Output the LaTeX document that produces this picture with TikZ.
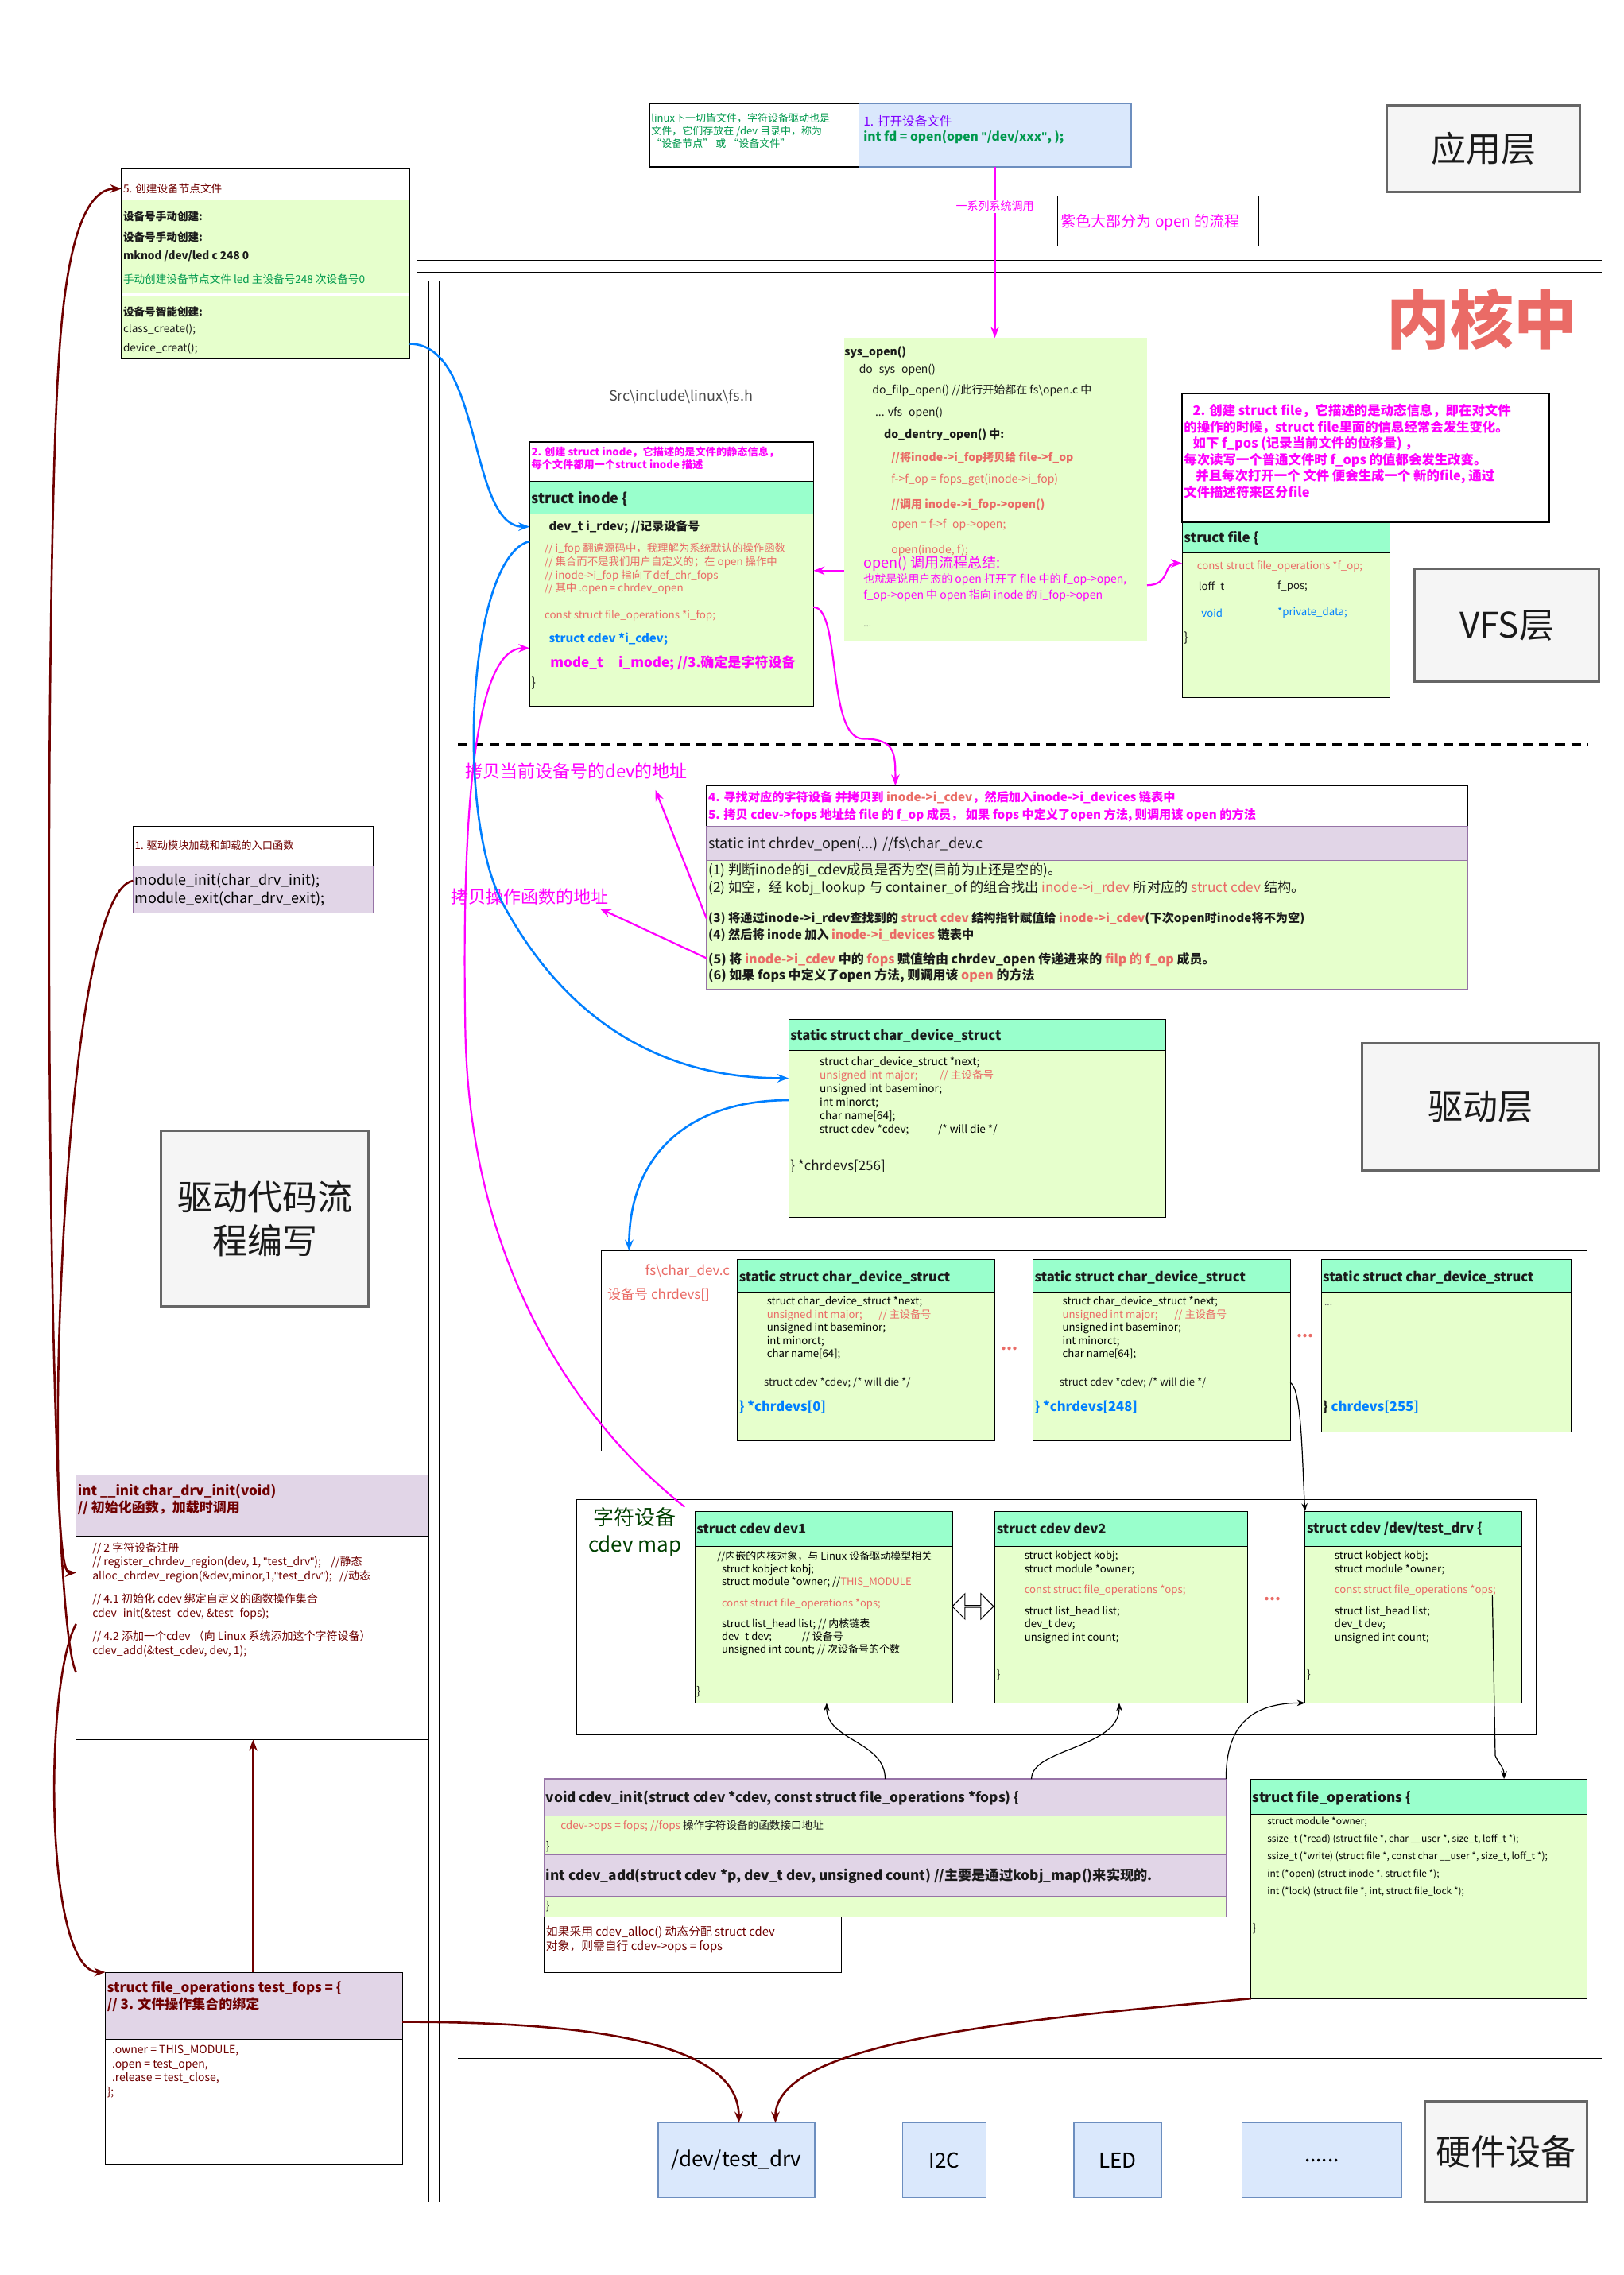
\documentclass[tikz,border=0pt]{standalone}
\usepackage{fontspec}
\setmainfont{Noto Sans CJK SC}
\newfontfamily\lib{Liberation Sans}
\usetikzlibrary{fit,arrows.meta,shapes.arrows}
\definecolor{hdr}{HTML}{99FFCC}
\definecolor{grn}{HTML}{E6FFCC}
\definecolor{pur}{HTML}{E1D5E7}
\definecolor{purd}{HTML}{9673A6}
\definecolor{blu}{HTML}{DAE8FC}
\definecolor{blud}{HTML}{6C8EBF}
\definecolor{gry}{HTML}{F5F5F5}
\definecolor{gryd}{HTML}{666666}
\definecolor{rtx}{HTML}{EA6B66}
\definecolor{mag}{HTML}{FF00FF}
\definecolor{drd}{HTML}{6F0000}
\definecolor{bln}{HTML}{007FFF}
\definecolor{gtx}{HTML}{00994D}
\definecolor{ptx}{HTML}{7F00FF}
\definecolor{dtx}{HTML}{1A1A1A}
\newcounter{tlc}
\newcommand\q{{\lib"}}
\newcommand\fz[1]{\fontsize{#1}{1.25\dimexpr #1pt\relax}\selectfont}
\newcommand\tl[3][]{\stepcounter{tlc}\node[tx,#1] (t\arabic{tlc}) at (#2) {#3};}
\newcommand\bx[4][]{\node[fit={(#3)(#4)},inner sep=0pt,outer sep=0pt,draw,#1] (#2) {};}
\tikzset{
  tx/.style={inner sep=0pt,anchor=west,font=\fz{6.5},text=dtx},
  bk/.style={draw=black,line width=0.7pt},
  gb/.style={draw=black,line width=0.5pt,fill=grn},
  hb/.style={draw=black,line width=0.5pt,fill=hdr},
  pb/.style={draw=purd,line width=0.6pt,fill=pur},
  grybox/.style={draw=gryd,line width=1.5pt,fill=gry},
  blubox/.style={draw=blud,line width=0.8pt,fill=blu},
  drarrow/.style={draw=drd,line width=1.3pt,-{Stealth[length=7pt]}},
  blarrow/.style={draw=bln,line width=1.3pt,-{Stealth[length=7pt]}},
  mgarrow/.style={draw=mag,line width=1.1pt,-{Stealth[length=7pt]}},
  kaarrow/.style={draw=black,line width=0.6pt,-{Stealth[length=5pt]}},
}
\begin{document}
\begin{tikzpicture}[x=0.92pt,y=-0.92pt]
\useasboundingbox[fill=white] (0,0) rectangle (1110,1555);
% ---------- frame lines
\draw[line width=0.6pt] (285,178) -- (1095,178) (285,186) -- (1095,186);
\draw[line width=0.5pt] (293,192) -- (293,1505) (300,192) -- (300,1505);
\draw[line width=0.6pt] (313,1400) -- (1095,1400) (313,1407) -- (1095,1407);
\draw[line width=1.5pt,dash pattern=on 6pt off 4pt] (313,509) -- (1085,509);
% ---------- top
\bx[bk,fill=white]{linuxbox}{444,71}{587,114}
\tl[text=gtx,font=\fz{6.5},align=left,anchor=north west]{445,77}{linux下一切皆文件，字符设备驱动也是\\文件，它们存放在 /dev 目录中，称为\\“设备节点” 或 “设备文件”}
\bx[blubox]{openbox}{587,71}{773,114}
\tl[text=ptx,font=\fz{7.8}]{590,83}{ 1. 打开设备文件}
\tl[text=gtx,font=\bfseries\fz{7.8}]{590,94}{int fd = open(open \q/dev/xxx\q, );}
\bx[grybox]{appl}{948,72}{1080,131}
\node[font=\fz{22},text=dtx] (applt) at (appl.center) {应用层};
\bx[bk,fill=white]{purpnote}{723,134}{860,168}
\tl[text=mag,font=\fz{9.5}]{725,152}{紫色大部分为 open 的流程}
\node[font=\bfseries\fz{40},text=rtx] (kern) at (1013,218) {内核中};
\tl[font=\fz{9},text=dtx!80]{416,271}{Src\textbackslash include\textbackslash linux\textbackslash fs.h}
% ---------- left box 5
\bx[bk,fill=white]{nodebox}{83,115}{280,245}
\bx[draw=none,fill=grn]{nb1}{83,137}{280,200}
\bx[draw=none,fill=grn]{nb2}{83,202}{280,245}
\tl[text=drd,font=\fz{6.8}]{84,129}{5. 创建设备节点文件}
\tl[font=\bfseries\fz{6.8}]{84,148}{设备号手动创建:}
\tl[font=\bfseries\fz{6.8}]{84,162}{设备号手动创建:}
\tl[font=\bfseries\fz{6.8}]{84,175}{mknod /dev/led c 248 0}
\tl[text=gtx,font=\fz{6.8}]{84,191}{手动创建设备节点文件 led  主设备号248 次设备号0}
\tl[font=\bfseries\fz{6.8}]{84,213}{设备号智能创建:}
\tl[font=\fz{6.8}]{84,225}{class\_create();}
\tl[font=\fz{6.8}]{84,238}{device\_creat();}
% ---------- sys_open
\bx[draw=none,fill=grn]{sysopen}{577,231}{784,438}
\tl[font=\bfseries\fz{7}]{577,241}{sys\_open()}
\tl[font=\fz{7}]{587,253}{do\_sys\_open()}
\tl[font=\fz{7}]{596,267}{do\_filp\_open()  //此行开始都在  fs\textbackslash open.c 中}
\tl[font=\fz{7}]{598,282}{... vfs\_open()}
\tl[font=\bfseries\fz{7}]{604,297}{do\_dentry\_open() 中:}
\tl[font=\bfseries\fz{7},text=rtx]{609,313}{//将inode->i\_fop拷贝给 file->f\_op}
\tl[font=\fz{7},text=rtx]{609,328}{f->f\_op = fops\_get(inode->i\_fop)}
\tl[font=\bfseries\fz{7},text=rtx]{609,345}{//调用 inode->i\_fop->open()}
\tl[font=\fz{7},text=rtx]{609,359}{open = f->f\_op->open;}
\tl[font=\fz{7},text=rtx]{609,376}{open(inode, f);}
\tl[font=\fz{9},text=mag]{590,385}{open() 调用流程总结:}
\tl[font=\fz{7},text=mag]{590,396}{也就是说用户态的 open 打开了 file 中的 f\_op->open,}
\tl[font=\fz{7},text=mag]{590,407}{f\_op->open 中 open 指向 inode 的 i\_fop->open}
\tl[font=\fz{6},text=gryd]{590,428}{...}
% ---------- struct file
\bx[bk,fill=white]{filenote}{808,269}{1059,357}
\node[font=\bfseries\fz{8.2},text=mag,align=left,anchor=north west,inner sep=0pt] (filenotet) at (809,276) {\ \ \ 2. 创建 struct file，它描述的是动态信息，即在对文件\\的操作的时候，struct file里面的信息经常会发生变化。\\\ \ \ 如下 f\_pos (记录当前文件的位移量) ，\\每次读写一个普通文件时 f\_ops 的值都会发生改变。\\\ \ \ \ 并且每次打开一个 文件 便会生成一个 新的file, 通过\\文件描述符来区分file};
\bx[gb]{filebody}{808,378}{950,477}
\bx[hb]{filehdr}{808,357}{950,378}
\tl[font=\bfseries\fz{8.5}]{809,368}{struct file \{}
\tl[font=\fz{6.6},text=rtx]{818,387}{const struct file\_operations *f\_op;}
\tl[font=\fz{6.6}]{819,401}{loff\_t}
\tl[font=\fz{6.6}]{873,401}{f\_pos;}
\tl[font=\fz{6.6},text=bln]{821,419}{void}
\tl[font=\fz{6.6},text=bln]{873,419}{*private\_data;}
\tl[font=\fz{8}]{809,436}{\}}
\bx[grybox]{vfs}{967,389}{1093,466}
\node[font=\fz{22},text=dtx] (vfst) at (vfs.center) {VFS层};
% ---------- struct inode
\bx[bk,fill=white]{inodenote}{362,302}{556,329}
\node[font=\bfseries\fz{6.6},text=mag,align=left,anchor=north west,inner sep=0pt] (inodenotet) at (363,305) {2. 创建 struct inode，它描述的是文件的静态信息，\\每个文件都用一个struct inode 描述};
\bx[gb]{inodebody}{362,351}{556,483}
\bx[hb]{inodehdr}{362,329}{556,351}
\tl[font=\bfseries\fz{9}]{363,341}{struct inode \{}
\tl[font=\bfseries\fz{7.5}]{375,360}{dev\_t i\_rdev; //记录设备号}
\node[font=\fz{6.7},text=rtx,align=left,anchor=north west,inner sep=0pt] (inodecm) at (372,371) {// i\_fop 翻遍源码中，我理解为系统默认的操作函数\\// 集合而不是我们用户自定义的；在 open 操作中\\// inode->i\_fop 指向了def\_chr\_fops\\// 其中 .open = chrdev\_open};
\tl[font=\fz{6.7},text=rtx]{372,421}{const struct file\_operations *i\_fop;}
\tl[font=\bfseries\fz{7.5},text=bln]{375,437}{struct cdev *i\_cdev;}
\tl[font=\bfseries\fz{8.5},text=mag]{376,453}{mode\_t\ \ \ \ \ i\_mode; //3.确定是字符设备}
\tl[font=\fz{8}]{363,467}{\}}
% ---------- chrdev_open
\bx[bk,fill=white]{chnote}{483,537}{1003,565}
\tl[font=\bfseries\fz{7.6},text=mag]{484,545}{4. 寻找对应的字符设备 并拷贝到 \textcolor{rtx}{inode->i\_cdev}，然后加入inode->i\_devices 链表中}
\tl[font=\bfseries\fz{7.6},text=mag]{484,557}{5. 拷贝 cdev->fops 地址给 file 的 f\_op 成员，  如果 fops 中定义了open 方法, 则调用该 open 的方法}
\bx[draw=purd,line width=0.6pt,fill=grn]{chbody}{483,588}{1003,676}
\bx[pb]{chhdr}{483,565}{1003,588}
\tl[font=\fz{9}]{484,577}{static int chrdev\_open(...) //fs\textbackslash char\_dev.c}
\tl[font=\fz{8.6}]{484,595}{(1) 判断inode的i\_cdev成员是否为空(目前为止还是空的)。}
\tl[font=\fz{8.6}]{484,607}{(2) 如空，经 kobj\_lookup 与 container\_of 的组合找出 \textcolor{rtx}{inode->i\_rdev} 所对应的 \textcolor{rtx}{struct cdev} 结构。}
\tl[font=\bfseries\fz{7.6}]{484,628}{(3) 将通过inode->i\_rdev查找到的 \textcolor{rtx}{struct cdev} 结构指针赋值给 \textcolor{rtx}{inode->i\_cdev}(下次open时inode将不为空)}
\tl[font=\bfseries\fz{7.6}]{484,639}{(4) 然后将 inode 加入 \textcolor{rtx}{inode->i\_devices} 链表中}
\tl[font=\bfseries\fz{8}]{484,656}{(5) 将 \textcolor{rtx}{inode->i\_cdev} 中的 \textcolor{rtx}{fops} 赋值给由 chrdev\_open 传递进来的 \textcolor{rtx}{filp 的 f\_op} 成员。}
\tl[font=\bfseries\fz{8}]{484,667}{(6) 如果 fops 中定义了open 方法, 则调用该 \textcolor{rtx}{open} 的方法}
\node[font=\fz{11},text=mag,fill=white,inner sep=1pt] (lbl1) at (394,527) {拷贝当前设备号的dev的地址};
\node[font=\fz{11},text=mag,fill=white,inner sep=1pt] (lbl2) at (362,613) {拷贝操作函数的地址};
% ---------- char_device_struct main
\bx[gb]{cds}{539,718}{797,832}
\bx[hb]{cdshdr}{539,697}{797,718}
\tl[font=\bfseries\fz{8.3}]{540,708}{static struct char\_device\_struct}
\node[font=\fz{6.8},align=left,anchor=north west,inner sep=0pt] (cdst) at (560,722) {struct char\_device\_struct *next;\\\textcolor{rtx}{unsigned int major;\ \ \ \ \ \ \ \ \ // 主设备号}\\unsigned int baseminor;\\int minorct;\\char name[64];\\struct cdev *cdev;\ \ \ \ \ \ \ \ \ \ \ \ /* will die */};
\tl[font=\fz{8.5}]{540,797}{\} *chrdevs[256]}
\bx[grybox]{drv}{931,713}{1093,800}
\node[font=\fz{22},text=dtx] (drvt) at (drv.center) {驱动层};
\bx[grybox]{code}{110,773}{252,893}
\node[font=\fz{22},text=dtx,align=center] (codet) at (code.center) {驱动代码流\\程编写};
% ---------- chrdevs array container
\bx[bk,fill=white,line width=0.5pt]{arr}{411,855}{1085,992}
\tl[font=\fz{8.5},text=rtx,anchor=east]{499,869}{fs\textbackslash char\_dev.c}
\tl[font=\fz{8.5},text=rtx]{415,885}{设备号 chrdevs[]}
\foreach \xa/\xb/\nm/\idx in {504/680/c0/{\} *chrdevs[0]},706/882/c248/{\} *chrdevs[248]}}{
  \bx[gb]{\nm}{\xa,883}{\xb,985}
  \bx[hb]{\nm h}{\xa,861}{\xb,883}
  \node[tx,font=\bfseries\fz{8.3}] (\nm ht) at (\xa+1,873) {static struct char\_device\_struct};
  \node[font=\fz{6.6},align=left,anchor=north west,inner sep=0pt] (\nm b) at (\xa+20,886) {struct char\_device\_struct *next;\\\textcolor{rtx}{unsigned int major;\ \ \ \ \ \ \ // 主设备号}\\unsigned int baseminor;\\int minorct;\\char name[64];};
  \node[tx,font=\fz{6.6}] (\nm c) at (\xa+18,945) {struct cdev *cdev; /* will die */};
  \node[tx,font=\bfseries\fz{8.3},text=bln] (\nm i) at (\xa+1,962) {\idx};
}
\bx[gb]{c255}{903,883}{1074,979}
\bx[hb]{c255h}{903,861}{1074,883}
\tl[font=\bfseries\fz{8.3}]{904,873}{static struct char\_device\_struct}
\tl[font=\fz{6},text=gryd]{905,892}{...}
\tl[font=\bfseries\fz{8.3},text=bln]{904,962}{\textcolor{dtx}{\}} chrdevs[255]}
\node[font=\bfseries\fz{10},text=rtx] (dots1) at (690,922) {...};
\node[font=\bfseries\fz{10},text=rtx] (dots2) at (892,913) {...};
% ---------- module_init
\bx[bk,fill=white]{modnote}{91,565}{255,592}
\tl[font=\fz{6.6},text=drd]{92,578}{1. 驱动模块加载和卸载的入口函数}
\bx[pb]{mod}{91,592}{255,624}
\node[font=\fz{9},align=left,anchor=north west,inner sep=0pt] (modt) at (92,597) {module\_init(char\_drv\_init);\\module\_exit(char\_drv\_exit);};
% ---------- __init
\bx[bk,fill=white,line width=0.5pt]{init}{52,1008}{293,1189}
\bx[draw=black,line width=0.5pt,fill=pur]{inith}{52,1008}{293,1050}
\node[font=\bfseries\fz{8.5},text=drd,align=left,anchor=north west,inner sep=0pt] (initht) at (53,1014) {int \_\_init char\_drv\_init(void)\\// 初始化函数，加载时调用};
\node[font=\fz{7},text=drd,align=left,anchor=north west,inner sep=0pt] (initb) at (63,1054) {// 2 字符设备注册\\// register\_chrdev\_region(dev, 1, \q test\_drv\q);\ \ \ \ //静态\\alloc\_chrdev\_region(\&dev,minor,1,\q test\_drv\q);\ \ \ //动态\\[6pt]// 4.1 初始化 cdev  绑定自定义的函数操作集合\\cdev\_init(\&test\_cdev, \&test\_fops);\\[6pt]// 4.2 添加一个cdev （向 Linux 系统添加这个字符设备）\\cdev\_add(\&test\_cdev, dev, 1);};
% ---------- cdev map
\bx[bk,fill=white,line width=0.5pt]{cmap}{394,1025}{1050,1186}
\node[font=\fz{13},text=black!75!green] (cmapt) at (434,1037) {字符设备};
\node[font=\fz{13},text=black!75!green] (cmapt2) at (434,1057) {cdev map};
\bx[gb]{dev1}{475,1057}{651,1164}
\bx[hb]{dev1h}{475,1033}{651,1057}
\tl[font=\bfseries\fz{8.3}]{476,1045}{struct cdev dev1}
\node[font=\fz{6.5},align=left,anchor=north west,inner sep=0pt] (dev1t) at (490,1060) {//内嵌的内核对象，与 Linux 设备驱动模型相关\\\ \ struct kobject kobj;\\\ \ struct module *owner;  //\textcolor{rtx}{THIS\_MODULE}\\[5pt]\ \ \textcolor{rtx}{const struct file\_operations *ops;}\\[5pt]\ \ struct list\_head list; // 内核链表\\\ \ dev\_t dev;\ \ \ \ \ \ \ \ \ \ \ \ \ // 设备号\\\ \ unsigned int count;  // 次设备号的个数};
\tl[font=\fz{7}]{476,1156}{\}}
\bx[gb]{dev2}{680,1057}{853,1164}
\bx[hb]{dev2h}{680,1033}{853,1057}
\tl[font=\bfseries\fz{8.3}]{681,1045}{struct cdev dev2}
\node[font=\fz{6.6},align=left,anchor=north west,inner sep=0pt] (dev2t) at (700,1060) {struct kobject kobj;\\struct module *owner;\\[5pt]\textcolor{rtx}{const struct file\_operations *ops;}\\[5pt]struct list\_head list;\\dev\_t dev;\\unsigned int count;};
\tl[font=\fz{7}]{681,1145}{\}}
\bx[gb]{dev3}{892,1057}{1040,1164}
\bx[hb]{dev3h}{892,1033}{1040,1057}
\tl[font=\bfseries\fz{8.3}]{893,1045}{struct cdev /dev/test\_drv \{}
\node[font=\fz{6.6},align=left,anchor=north west,inner sep=0pt] (dev3t) at (912,1060) {struct kobject kobj;\\struct module *owner;\\[5pt]\textcolor{rtx}{const struct file\_operations *ops;}\\[5pt]struct list\_head list;\\dev\_t dev;\\unsigned int count;};
\tl[font=\fz{7}]{893,1145}{\}}
\node[double arrow,draw=black,fill=white,line width=0.5pt,minimum width=16pt,minimum height=26pt,double arrow head extend=3pt,inner sep=0pt] (dbl) at (665,1098) {};
\node[font=\bfseries\fz{10},text=rtx] (dots3) at (870,1093) {...};
% ---------- cdev_init / cdev_add
\bx[draw=purd,line width=0.6pt,fill=grn]{ci1}{372,1241}{838,1268}
\bx[pb]{cih}{372,1216}{838,1241}
\tl[font=\bfseries\fz{8.6}]{373,1229}{void cdev\_init(struct cdev *cdev, const struct file\_operations *fops) \{}
\tl[font=\fz{6.8},text=rtx]{383,1248}{cdev->ops = fops;  //fops \textcolor{dtx}{操作字符设备的函数接口地址}}
\tl[font=\fz{7}]{373,1262}{\}}
\bx[draw=purd,line width=0.6pt,fill=grn]{ci2}{372,1296}{838,1310}
\bx[pb]{cah}{372,1268}{838,1296}
\tl[font=\bfseries\fz{8.6}]{373,1282}{int cdev\_add(struct cdev *p, dev\_t dev, unsigned count) //主要是通过kobj\_map()来实现的.}
\tl[font=\fz{7}]{373,1303}{\}}
\bx[bk,fill=white,line width=0.5pt]{allocnote}{372,1310}{575,1348}
\node[font=\fz{7.4},text=drd,align=left,anchor=north west,inner sep=0pt] (allocnotet) at (373,1316) {如果采用 cdev\_alloc() 动态分配 struct cdev\\对象，则需自行 cdev->ops = fops};
% ---------- struct file_operations
\bx[gb]{fops}{855,1240}{1085,1366}
\bx[hb]{fopsh}{855,1216}{1085,1240}
\tl[font=\bfseries\fz{8.6}]{856,1229}{struct file\_operations \{}
\node[font=\fz{6},align=left,anchor=north west,inner sep=0pt] (fopst) at (866,1242) {struct module *owner;\\[3.5pt]ssize\_t (*read) (struct file *, char \_\_user *, size\_t, loff\_t *);\\[3.5pt]ssize\_t (*write) (struct file *, const char \_\_user *, size\_t, loff\_t *);\\[3.5pt]int (*open) (struct inode *, struct file *);\\[3.5pt]int (*lock) (struct file *, int, struct file\_lock *);};
\tl[font=\fz{7}]{856,1318}{\}}
% ---------- test_fops
\bx[bk,fill=white,line width=0.5pt]{tf}{72,1348}{275,1479}
\bx[draw=black,line width=0.5pt,fill=pur]{tfh}{72,1348}{275,1394}
\node[font=\bfseries\fz{8.5},text=drd,align=left,anchor=north west,inner sep=0pt] (tfht) at (73,1354) {struct file\_operations test\_fops = \{\\// 3. 文件操作集合的绑定};
\node[font=\fz{7},text=drd,align=left,anchor=north west,inner sep=0pt] (tfb) at (73,1398) {\ \ .owner = THIS\_MODULE,\\\ \ .open  = test\_open,\\\ \ .release = test\_close,\\\};};
% ---------- hardware
\bx[blubox]{hw1}{450,1451}{557,1502}
\node[font=\fz{13}] (hw1t) at (hw1.center) {/dev/test\_drv};
\bx[blubox]{hw2}{617,1451}{674,1502}
\node[font=\fz{13}] (hw2t) at (hw2.center) {I2C};
\bx[blubox]{hw3}{734,1451}{794,1502}
\node[font=\fz{13}] (hw3t) at (hw3.center) {LED};
\bx[blubox]{hw4}{849,1451}{958,1502}
\node[font=\fz{13}] (hw4t) at (hw4.center) {......};
\bx[grybox]{hwl}{974,1436}{1085,1505}
\node[font=\fz{22},text=dtx] (hwlt) at (hwl.center) {硬件设备};
% ---------- connectors
\coordinate (sysin) at (680,231);
\draw[mgarrow] (openbox.south -| sysin) -- (sysin);
\node[font=\fz{7},text=mag,fill=white,inner sep=1pt] (syscall) at (680,141) {一系列系统调用};
\draw[mgarrow] (577,390) -- (inodebody.east |- 0,390);
\draw[mgarrow] (784,400) .. controls (800,400) and (795,385) .. (filebody.west |- 0,385);
\draw[mgarrow] (556,415) .. controls (575,415) and (565,505) .. (590,505) .. controls (612,505) and (612,515) .. (612,537);
\draw[mgarrow] (483,628) -- (448,540);
\draw[mgarrow] (483,655) -- (410,621);
\draw[mgarrow] (468,1030) .. controls (430,1000) and (320,900) .. (318,700) .. controls (315,520) and (330,443) .. (362,443);
\draw[blarrow] (280,235) .. controls (330,235) and (320,360) .. (362,360);
\draw[blarrow] (362,370) .. controls (320,380) and (310,560) .. (345,620) .. controls (400,720) and (480,737) .. (539,737);
\draw[blarrow] (539,752) .. controls (470,752) and (430,790) .. (430,855);
\draw[drarrow] (52,1143) .. controls (30,1100) and (30,400) .. (40,250) .. controls (45,160) and (60,129) .. (83,129);
\draw[drarrow] (91,602) .. controls (40,610) and (30,1075) .. (52,1075);
\draw[drarrow] (52,1110) .. controls (30,1150) and (30,1348) .. (72,1348);
\draw[drarrow] (173,1348) -- (173,1189);
\draw[drarrow] (275,1382) .. controls (420,1382) and (505,1400) .. (505,1451);
\draw[drarrow] (855,1366) .. controls (700,1380) and (530,1395) .. (530,1451);
\draw[kaarrow] (882,945) .. controls (890,950) and (890,1000) .. (892,1033);
\draw[kaarrow] (605,1216) .. controls (605,1190) and (565,1190) .. (565,1164);
\draw[kaarrow] (705,1216) .. controls (705,1195) and (765,1195) .. (765,1164);
\draw[kaarrow] (838,1216) .. controls (838,1185) and (850,1164) .. (892,1164);
\draw[kaarrow] (1020,1090) -- (1022,1200) .. controls (1024,1205) and (1028,1208) .. (fopsh.north -| 1028,0);
\end{tikzpicture}
\end{document}
